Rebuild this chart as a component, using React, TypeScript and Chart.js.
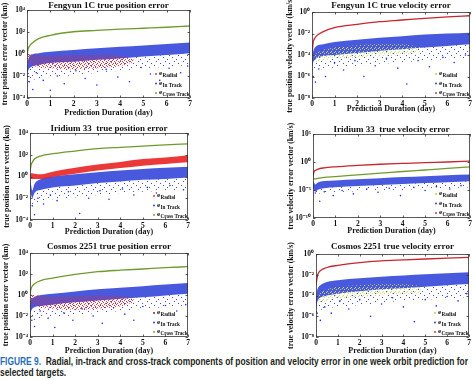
import React, { useEffect, useRef } from "react";
import { Chart, registerables } from "chart.js";
Chart.register(...registerables);

// ---------- shared axes ----------
const days = [0, 0.05, 0.1, 0.2, 0.5, 1, 2, 3, 4, 5, 6, 7];
const redDays = [0, 0.05, 0.1, 0.2, 0.5, 1, 2, 3, 4, 4.6];
const yelDays = [0.1, 0.5, 1, 2, 3, 4, 4.8];
const dayTicks = [0, 1, 2, 3, 4, 5, 6, 7];
const posTicks = [1e-4, 1e-2, 1, 1e2, 1e4];
const velTicks8 = [1e-8, 1e-6, 1e-4, 1e-2, 1];
const velTicks10 = [1e-10, 1e-5, 1, 1e5];
const legendLabels = ["Radial", "In Track", "Cross Track"];
const xTitle = "Prediction Duration (day)";

// ---------- Fengyun 1C position (km) ----------
const fyPosCross = [0.8, 3, 5, 9, 25, 50, 105, 140, 180, 220, 270, 350];
const fyPosInTop = [0.05, 0.3, 0.6, 0.9, 1.2, 1.6, 2.3, 3.3, 4.5, 6, 8, 11];
const fyPosInMid = [0.006, 0.03, 0.05, 0.07, 0.1, 0.15, 0.2, 0.3, 0.4, 0.6, 0.8, 1.2];
const fyPosInLow = [0.001, 0.002, 0.003, 0.004, 0.006, 0.008, 0.012, 0.02, 0.03, 0.05, 0.07, 0.1];
const fyPosRadTop = [0.4, 0.9, 1.0, 0.9, 0.8, 0.7, 0.8, 0.8, 0.7, 0.3];
const fyPosRadLow = [0.1, 0.2, 0.15, 0.1, 0.06, 0.05, 0.04, 0.05, 0.08, 0.2];
const fyPosDots = [[0.1, 0.003], [0.25, 0.0006], [0.4, 0.02], [0.7, 0.004], [1.0, 0.0005], [1.3, 0.01], [1.6, 0.002], [2.1, 0.03], [2.5, 0.006], [3.0, 0.0015], [3.4, 0.04], [3.9, 0.008], [4.4, 0.003], [4.9, 0.06], [5.3, 0.015], [5.7, 0.004], [6.1, 0.05], [6.6, 0.02], [6.9, 0.08]];

// ---------- Iridium 33 position (km) ----------
const irPosCross = [3, 12, 20, 40, 80, 125, 220, 360, 480, 630, 800, 1000];
const irPosRadTop = [1.5, 2, 2, 1.8, 1.6, 2.8, 6.5, 13, 22, 40, 56, 90];
const irPosRadLow = [0.5, 0.6, 0.6, 0.6, 0.6, 0.9, 1.8, 3.5, 6, 10, 14, 20];
const irPosInTop = [0.5, 0.15, 0.05, 0.2, 0.6, 1, 1.6, 2.5, 3.5, 5, 6.5, 8];
const irPosInMid = [0.05, 0.02, 0.01, 0.03, 0.06, 0.1, 0.15, 0.25, 0.35, 0.5, 0.6, 0.8];
const irPosInLow = [0.005, 0.002, 0.001, 0.003, 0.005, 0.008, 0.012, 0.02, 0.03, 0.04, 0.05, 0.06];
const irPosDots = [[0.1, 0.002], [0.2, 0.0003], [0.35, 0.01], [0.6, 0.003], [0.9, 0.02], [1.2, 0.006], [1.7, 0.04], [2.2, 0.0004], [2.6, 0.01], [3.1, 0.05], [3.5, 0.008], [4.1, 0.07], [4.6, 0.02], [5.2, 0.1], [5.6, 0.03], [6.2, 0.15], [6.8, 0.06]];

// ---------- Cosmos 2251 position (km) ----------
const coPosCross = [1.2, 4, 7, 12, 25, 40, 90, 165, 230, 300, 400, 500];
const coPosInTop = [0.1, 0.4, 0.5, 0.7, 1.0, 1.3, 2.2, 3.5, 5, 7, 10, 14];
const coPosInMid = [0.01, 0.03, 0.05, 0.07, 0.09, 0.12, 0.2, 0.3, 0.45, 0.6, 0.9, 1.3];
const coPosInLow = [0.001, 0.002, 0.003, 0.004, 0.006, 0.008, 0.012, 0.02, 0.03, 0.05, 0.07, 0.1];
const coPosRadTop = [0.5, 1.0, 1.1, 1.0, 0.8, 0.7, 0.8, 0.9, 0.8, 0.4];
const coPosRadLow = [0.1, 0.2, 0.15, 0.1, 0.06, 0.05, 0.04, 0.05, 0.08, 0.2];
const coPosDots = [[0.08, 0.004], [0.2, 0.001], [0.45, 0.03], [0.8, 0.006], [1.1, 0.0008], [1.5, 0.02], [1.9, 0.004], [2.3, 0.05], [2.8, 0.01], [3.2, 0.002], [3.7, 0.06], [4.2, 0.015], [4.6, 0.004], [5.0, 0.08], [5.5, 0.02], [6.0, 0.1], [6.5, 0.03], [6.9, 0.12]];

// ---------- Fengyun 1C velocity (km/s) ----------
const fyVelCross = [1e-4, 1.5e-3, 3e-3, 6e-3, 0.015, 0.035, 0.07, 0.125, 0.18, 0.26, 0.35, 0.45];
const fyVelInTop = [5e-5, 2e-4, 4e-4, 7e-4, 1e-3, 1.6e-3, 2.6e-3, 4e-3, 5.5e-3, 8e-3, 1e-2, 1.2e-2];
const fyVelInMid = [5e-6, 2e-5, 3e-5, 5e-5, 8e-5, 1e-4, 1.5e-4, 2.5e-4, 3.5e-4, 5e-4, 7e-4, 1e-3];
const fyVelInLow = [1e-6, 2e-6, 3e-6, 4e-6, 5e-6, 7e-6, 1e-5, 1.5e-5, 2e-5, 3e-5, 4e-5, 5e-5];
const fyVelRadTop = [1e-4, 3e-4, 5e-4, 8e-4, 1e-3, 1e-3, 6e-4];
const fyVelRadLow = [2e-5, 3e-5, 4e-5, 6e-5, 8e-5, 1e-4, 2e-4];
const fyVelDots = [[0.05, 1e-6], [0.15, 3e-7], [0.3, 5e-6], [0.6, 1e-6], [1.0, 2e-5], [1.4, 4e-6], [1.9, 3e-5], [2.3, 1e-6], [2.8, 1e-5], [3.3, 5e-5], [3.8, 6e-6], [4.2, 2e-7], [4.7, 3e-5], [5.2, 8e-6], [5.8, 6e-5], [6.3, 2e-5], [6.8, 1e-4]];

// ---------- Iridium 33 velocity (km/s) ----------
const irVelCross = [2.5e-3, 0.02, 0.03, 0.05, 0.09, 0.14, 0.25, 0.4, 0.55, 0.75, 1.0, 1.4];
const irVelRadial = [1.5e-3, 1e-3, 1e-3, 1.2e-3, 1.8e-3, 2.5e-3, 5e-3, 0.01, 0.02, 0.037, 0.07, 0.14];
const irVelInTop = [3e-4, 2e-4, 1e-4, 2e-4, 4e-4, 5e-4, 8e-4, 1.2e-3, 2e-3, 3e-3, 4.5e-3, 6e-3];
const irVelInMid = [2e-5, 1e-5, 5e-6, 1e-5, 2e-5, 3e-5, 5e-5, 8e-5, 1.2e-4, 1.8e-4, 2.5e-4, 3.5e-4];
const irVelInLow = [3e-6, 2e-6, 1e-6, 2e-6, 3e-6, 4e-6, 6e-6, 8e-6, 1e-5, 1.5e-5, 2e-5, 3e-5];
const irVelDots = [[0.1, 3e-6], [0.3, 1e-7], [0.5, 5e-6], [0.9, 1e-6], [1.3, 8e-6], [1.8, 2e-6], [2.4, 1.5e-5], [2.9, 4e-6], [3.4, 2e-5], [3.9, 1e-6], [4.5, 3e-5], [5.0, 8e-6], [5.5, 4e-5], [6.1, 1.5e-5], [6.6, 6e-5]];

// ---------- Cosmos 2251 velocity (km/s) ----------
const coVelCross = [1e-3, 5e-3, 1.3e-2, 2.5e-2, 5e-2, 8e-2, 0.15, 0.22, 0.27, 0.33, 0.4, 0.48];
const coVelInTop = [5e-5, 3e-4, 6e-4, 1e-3, 2e-3, 3e-3, 4.5e-3, 6.5e-3, 8.5e-3, 1.1e-2, 1.4e-2, 1.7e-2];
const coVelInMid = [5e-6, 2e-5, 4e-5, 6e-5, 1e-4, 1.5e-4, 2.5e-4, 4e-4, 5e-4, 7e-4, 1e-3, 1.3e-3];
const coVelInLow = [1e-6, 2e-6, 3e-6, 4e-6, 6e-6, 8e-6, 1.2e-5, 2e-5, 3e-5, 4e-5, 5e-5, 7e-5];
const coVelRadTop = [1.5e-4, 4e-4, 7e-4, 1e-3, 1.2e-3, 1.2e-3, 8e-4];
const coVelRadLow = [2e-5, 3e-5, 5e-5, 7e-5, 1e-4, 1.2e-4, 2e-4];
const coVelDots = [[0.05, 2e-6], [0.2, 4e-7], [0.4, 8e-6], [0.7, 2e-6], [1.1, 3e-5], [1.5, 5e-6], [2.0, 4e-5], [2.5, 1e-6], [3.0, 1.5e-5], [3.5, 6e-5], [4.0, 8e-6], [4.5, 3e-7], [5.0, 4e-5], [5.5, 1e-5], [6.0, 8e-5], [6.5, 3e-5], [6.9, 1.5e-4]];

// ---------- styles ----------
const GREEN = "#6f9b2e";
const RED_LINE = "#c8262e";
const BLUE = "#1c2fd6";
const BLUE_DENSE = "rgba(28,47,214,0.8)";
const SERIF = '"Liberation Serif", "Times New Roman", serif';

const SUP: Record<string, string> = { "-": "\u207b", "0": "\u2070", "1": "\u00b9", "2": "\u00b2", "3": "\u00b3", "4": "\u2074", "5": "\u2075", "6": "\u2076", "7": "\u2077", "8": "\u2078", "9": "\u2079" };
const pow10 = (v: number) => "10" + String(Math.round(Math.log10(v))).split("").map((c) => SUP[c]).join("");
const zip = (xs: number[], ys: number[]) => xs.map((x, i) => ({ x, y: ys[i] }));

type Spec = {
  left: number; top: number; width: number; height: number;
  padTop: number; padRight: number; yWidth: number; xHeight: number;
  titleDy: number; yTitleX: number;
  title: string; yTitle: string;
  yMin: number; yMax: number; yTicks: number[];
  lines: { x: number[]; y: number[]; color: string }[];
  overlay: { x: number[]; top: number[]; low: number[]; kind: string };
  cloud: { top: number[]; mid: number[]; low: number[] };
  dots: number[][];
  legendColors: string[];
};

const posLegend = ["#e02828", BLUE, GREEN];
const velLegend = ["#b8c840", BLUE, RED_LINE];

const specs: Spec[] = [
  {
    left: 0, top: 0, width: 196, height: 118, padTop: 10, padRight: 6, yWidth: 27, xHeight: 20, titleDy: 4.5, yTitleX: 5,
    title: "Fengyun 1C true position error", yTitle: "true position error vector (km)",
    yMin: 1e-4, yMax: 1e4, yTicks: posTicks,
    lines: [{ x: days, y: fyPosCross, color: GREEN }],
    overlay: { x: redDays, top: fyPosRadTop, low: fyPosRadLow, kind: "redStipple" },
    cloud: { top: fyPosInTop, mid: fyPosInMid, low: fyPosInLow },
    dots: fyPosDots, legendColors: posLegend,
  },
  {
    left: 0, top: 120, width: 196, height: 117, padTop: 13, padRight: 8, yWidth: 30, xHeight: 17, titleDy: 4.5, yTitleX: 7,
    title: "Iridium 33  true position error", yTitle: "true position error vector (km)",
    yMin: 1e-4, yMax: 1e4, yTicks: posTicks,
    lines: [{ x: days, y: irPosCross, color: GREEN }],
    overlay: { x: days, top: irPosRadTop, low: irPosRadLow, kind: "redSolid" },
    cloud: { top: irPosInTop, mid: irPosInMid, low: irPosInLow },
    dots: irPosDots, legendColors: posLegend,
  },
  {
    left: 0, top: 240, width: 196, height: 116, padTop: 13, padRight: 8, yWidth: 30, xHeight: 19, titleDy: 6.5, yTitleX: 6,
    title: "Cosmos 2251 true position error", yTitle: "true position error vector (km)",
    yMin: 1e-4, yMax: 1e4, yTicks: posTicks,
    lines: [{ x: days, y: coPosCross, color: GREEN }],
    overlay: { x: redDays, top: coPosRadTop, low: coPosRadLow, kind: "redStipple" },
    cloud: { top: coPosInTop, mid: coPosInMid, low: coPosInLow },
    dots: coPosDots, legendColors: posLegend,
  },
  {
    left: 282, top: 0, width: 192, height: 114, padTop: 12, padRight: 4, yWidth: 30, xHeight: 16, titleDy: 6, yTitleX: 8,
    title: "Fengyun 1C true velocity error", yTitle: "true position velocity vector (km/s)",
    yMin: 1e-8, yMax: 1, yTicks: velTicks8,
    lines: [{ x: days, y: fyVelCross, color: RED_LINE }],
    overlay: { x: yelDays, top: fyVelRadTop, low: fyVelRadLow, kind: "yelStipple" },
    cloud: { top: fyVelInTop, mid: fyVelInMid, low: fyVelInLow },
    dots: fyVelDots, legendColors: velLegend,
  },
  {
    left: 282, top: 120, width: 192, height: 116, padTop: 14, padRight: 4, yWidth: 31, xHeight: 18, titleDy: 4, yTitleX: 9,
    title: "Iridium 33  true velocity error", yTitle: "true velocity error vector (km/s)",
    yMin: 1e-10, yMax: 1e5, yTicks: velTicks10,
    lines: [{ x: days, y: irVelCross, color: RED_LINE }, { x: days, y: irVelRadial, color: GREEN }],
    overlay: { x: [], top: [], low: [], kind: "yelStipple" },
    cloud: { top: irVelInTop, mid: irVelInMid, low: irVelInLow },
    dots: irVelDots, legendColors: velLegend,
  },
  {
    left: 282, top: 240, width: 192, height: 116, padTop: 14, padRight: 5, yWidth: 34, xHeight: 19, titleDy: 7, yTitleX: 9,
    title: "Cosmos 2251 true velocity error", yTitle: "true velocity error vector (km/s)",
    yMin: 1e-8, yMax: 1, yTicks: velTicks8,
    lines: [{ x: days, y: coVelCross, color: RED_LINE }],
    overlay: { x: yelDays, top: coVelRadTop, low: coVelRadLow, kind: "yelStipple" },
    cloud: { top: coVelInTop, mid: coVelInMid, low: coVelInLow },
    dots: coVelDots, legendColors: velLegend,
  },
];

const framePlugin = {
  id: "frame",
  afterDatasetsDraw(chart: any, _args: any, opts: any) {
    const { ctx, chartArea: a } = chart;
    const xs = chart.scales.x;
    const ys = chart.scales.y;
    ctx.save();
    ctx.strokeStyle = "#333";
    ctx.lineWidth = 0.8;
    ctx.strokeRect(a.left + 0.5, a.top + 0.5, a.right - a.left - 1, a.bottom - a.top - 1);
    ctx.beginPath();
    xs.ticks.forEach((t: any) => {
      const px = Math.round(xs.getPixelForValue(t.value)) + 0.5;
      ctx.moveTo(px, a.bottom); ctx.lineTo(px, a.bottom - 2.5);
      ctx.moveTo(px, a.top); ctx.lineTo(px, a.top + 2.5);
    });
    ys.ticks.forEach((t: any) => {
      const py = Math.round(ys.getPixelForValue(t.value)) + 0.5;
      ctx.moveTo(a.left, py); ctx.lineTo(a.left + 2.5, py);
      ctx.moveTo(a.right, py); ctx.lineTo(a.right - 2.5, py);
    });
    ctx.stroke();
    // title
    ctx.fillStyle = "#111";
    ctx.font = `bold 9px ${SERIF}`;
    ctx.textAlign = "center";
    ctx.textBaseline = "middle";
    ctx.fillText(opts.title, (a.left + a.right) / 2, a.top - opts.titleDy);
    // y title
    ctx.save();
    ctx.translate(opts.yTitleX, (a.top + a.bottom) / 2);
    ctx.rotate(-Math.PI / 2);
    ctx.font = `bold 7.8px ${SERIF}`;
    ctx.fillText(opts.yTitle, 0, 0);
    ctx.restore();
    // legend
    const lx = a.right - 31;
    const rows = [a.bottom - 24, a.bottom - 14.5, a.bottom - 5];
    legendLabels.forEach((lab, i) => {
      const y = rows[i];
      ctx.fillStyle = opts.legendColors[i];
      ctx.beginPath();
      ctx.arc(lx - 3, y, 0.9, 0, Math.PI * 2);
      ctx.fill();
      ctx.fillStyle = "#111";
      ctx.textAlign = "left";
      ctx.textBaseline = "alphabetic";
      ctx.font = `bold 7px ${SERIF}`;
      ctx.fillText("e", lx, y + 1);
      ctx.font = `bold 5.2px ${SERIF}`;
      ctx.fillText(lab, lx + 3.5, y + 3);
    });
    ctx.restore();
  },
};

function makePattern(color: string, w: number, h: number, pts: number[][]) {
  const c = document.createElement("canvas");
  c.width = w; c.height = h;
  const g = c.getContext("2d")!;
  g.fillStyle = color;
  pts.forEach(([x, y]) => g.fillRect(x, y, 1, 1));
  return g.createPattern(c, "repeat");
}

function buildConfig(s: Spec): any {
  const blueStipple = makePattern("rgba(28,47,214,0.85)", 9, 8, [[1, 1], [5, 3], [3, 5], [7, 7]]);
  const fills: Record<string, any> = {
    redStipple: makePattern("rgba(232,36,36,0.9)", 4, 4, [[0, 0], [2, 1], [1, 3], [3, 2]]),
    redSolid: "rgba(232,30,30,0.88)",
    yelStipple: makePattern("rgba(205,222,100,0.95)", 4, 4, [[0, 0], [2, 1], [1, 3]]),
  };
  const band = { borderWidth: 0, pointRadius: 0, cubicInterpolationMode: "monotone" };
  const datasets: any[] = [];
  s.lines.forEach((l) => datasets.push({ data: zip(l.x, l.y), borderColor: l.color, borderWidth: 1.3, pointRadius: 0, fill: false, cubicInterpolationMode: "monotone", order: 0 }));
  datasets.push({ data: s.dots.map(([x, y]) => ({ x, y })), showLine: false, pointRadius: 0.8, pointBorderWidth: 0, pointBackgroundColor: BLUE, order: 1 });
  if (s.overlay.x.length) {
    datasets.push({ ...band, data: zip(s.overlay.x, s.overlay.top), fill: "+1", backgroundColor: fills[s.overlay.kind], order: 2 });
    datasets.push({ ...band, data: zip(s.overlay.x, s.overlay.low), fill: false, order: 2 });
  }
  datasets.push({ ...band, data: zip(days, s.cloud.top), fill: "+1", backgroundColor: BLUE_DENSE, order: 3 });
  datasets.push({ ...band, data: zip(days, s.cloud.mid), fill: "+1", backgroundColor: blueStipple, order: 3 });
  datasets.push({ ...band, data: zip(days, s.cloud.low), fill: false, order: 3 });

  const tickFont = { family: SERIF, size: 7.5, weight: "bold" };
  return {
    type: "line",
    data: { datasets },
    plugins: [framePlugin],
    options: {
      animation: false,
      responsive: false,
      devicePixelRatio: 1,
      layout: { padding: { top: s.padTop, right: s.padRight, left: 0, bottom: 0 } },
      plugins: {
        legend: { display: false },
        tooltip: { enabled: false },
        title: { display: false },
        frame: { title: s.title, titleDy: s.titleDy, yTitle: s.yTitle, yTitleX: s.yTitleX, legendColors: s.legendColors },
      },
      scales: {
        x: {
          type: "linear", min: 0, max: 7,
          grid: { display: false, drawTicks: false },
          border: { display: false },
          ticks: { font: tickFont, color: "#111", padding: 2, autoSkip: false, maxRotation: 0, callback: (v: number) => String(v) },
          afterBuildTicks: (sc: any) => { sc.ticks = dayTicks.map((v) => ({ value: v })); },
          afterFit: (sc: any) => { sc.height = s.xHeight; },
          title: { display: true, text: xTitle, color: "#111", font: { family: SERIF, size: 8, weight: "bold" }, padding: { top: 0, bottom: 0 } },
        },
        y: {
          type: "logarithmic", min: s.yMin, max: s.yMax,
          grid: { display: false, drawTicks: false },
          border: { display: false },
          ticks: { font: tickFont, color: "#111", padding: 2, autoSkip: false, callback: (v: number) => pow10(v) },
          afterBuildTicks: (sc: any) => { sc.ticks = s.yTicks.map((v) => ({ value: v })); },
          afterFit: (sc: any) => { sc.width = s.yWidth; },
        },
      },
    },
  };
}

function Panel({ spec }: { spec: Spec }) {
  const ref = useRef<HTMLCanvasElement>(null);
  useEffect(() => {
    const chart = new Chart(ref.current as HTMLCanvasElement, buildConfig(spec));
    return () => chart.destroy();
  }, [spec]);
  return (
    <canvas
      ref={ref}
      width={spec.width}
      height={spec.height}
      style={{ position: "absolute", left: spec.left, top: spec.top, width: spec.width, height: spec.height }}
    />
  );
}

const captionLabel = "FIGURE 9.";
const captionLine1 = "Radial, in-track and cross-track components of position and velocity error in one week orbit prediction for";
const captionLine2 = "selected targets.";

function Caption() {
  const l1 = useRef<HTMLDivElement>(null);
  const l2 = useRef<HTMLDivElement>(null);
  useEffect(() => {
    const el = l1.current!;
    const k = 468 / el.scrollWidth;
    el.style.transform = `scaleX(${k})`;
    l2.current!.style.transform = `scaleX(${k})`;
  }, []);
  const line: React.CSSProperties = { whiteSpace: "nowrap", transformOrigin: "0 0", display: "inline-block", height: 10.5 };
  return (
    <div style={{ position: "absolute", left: 0, top: 357, fontFamily: '"Liberation Sans", Arial, sans-serif', fontWeight: "bold", fontSize: 10, lineHeight: "10.5px", color: "#231f20" }}>
      <div ref={l1} style={line}>
        <span style={{ color: "#1f6db6" }}>{captionLabel}</span>{"\u00a0\u00a0"}{captionLine1}
      </div>
      <br />
      <div ref={l2} style={line}>{captionLine2}</div>
    </div>
  );
}

export default function App() {
  return (
    <div style={{ position: "fixed", left: 0, top: 0, width: 474, height: 380, background: "#fff", overflow: "hidden" }}>
      {specs.map((s, i) => (
        <Panel key={i} spec={s} />
      ))}
      <Caption />
    </div>
  );
}
